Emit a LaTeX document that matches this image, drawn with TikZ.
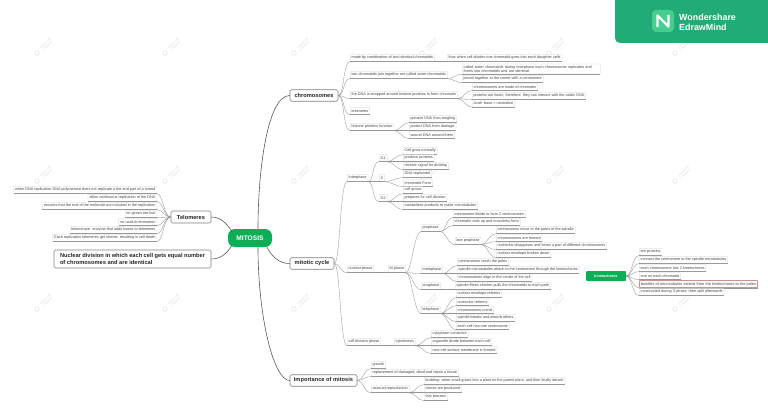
\documentclass[tikz,border=0pt]{standalone}
\usepackage{fontspec}
\setmainfont{Liberation Sans}
\usetikzlibrary{calc}
\definecolor{rootgreen}{HTML}{0DAE55}
\definecolor{logogreen}{HTML}{22AB76}
\definecolor{iconlight}{HTML}{45CE8E}
\definecolor{redline}{HTML}{A85A5A}
\tikzset{
  leaf/.style={draw=black!20,line width=.25pt,fill=white,font=\fontsize{3.78}{4.3}\selectfont,text=black!72,
    inner xsep=1.5pt,inner ysep=0pt,minimum height=7pt,rounded corners=.6pt,
    append after command={(\tikzlastnode.south west) edge[bottomline] (\tikzlastnode.south east)}},
  bottomline/.style={draw=black!40,line width=.3pt},
  major/.style={draw=black!50,line width=.6pt,fill=white,rounded corners=1.5pt,font=\bfseries\fontsize{5.7}{6.6}\selectfont,text=black!85,inner sep=0pt},
  conn/.style={draw=black!42,line width=.35pt},
  mainconn/.style={draw=black!65,line width=.6pt},
  wmark/.style={text=black!16,font=\fontsize{2.5}{3.2}\selectfont,rotate=45,align=left,inner sep=0pt},
  wmdot/.style={draw=black!11,fill=white,line width=.5pt,circle,minimum size=4.5pt,inner sep=0pt}
}
\newcommand{\leaf}[4]{\node[leaf,anchor=west] (#1) at (#2,#3) {#4};}
\newcommand{\rleaf}[3]{\node[leaf,anchor=east] (#1) at (157,#2) {#3};}
\newcommand{\lk}[2]{\foreach \kid in {#2} {\draw[conn] (#1.south east) .. controls +(6,0) and +(-7,0) .. (\kid.south west);}}
\newcommand{\mk}[2]{\foreach \kid in {#2} {\draw[conn] (#1.east) .. controls +(6,0) and +(-7,0) .. (\kid.south west);}}
\begin{document}
\begin{tikzpicture}[x=1pt,y=-1pt]
\useasboundingbox (0,0) rectangle (768,412);
\fill[white] (0,0) rectangle (768,412);
% watermarks
\foreach \wx/\wn in {45/a,173/b,302/c,430/d,557/e,683/f} {
  \foreach \wy/\wm in {46/p,174/q,302/r} {
    \node[wmdot] (wd\wn\wm) at (\wx-8,\wy+7) {};
    \node[wmark] (wt\wn\wm) at (\wx+2,\wy-2) {Wondershare\\EdrawMind};
  }
}
% logo
\fill[logogreen] (768,0) -- (615,0) [rounded corners=5pt] -- (615,43) [sharp corners] -- (768,43) -- cycle;
\fill[iconlight,rounded corners=4pt] (652,10) rectangle (674,32);
\draw[white,line width=2.4pt,line join=round] (657.5,27) -- (657.5,15.5) -- (668.5,26.5) -- (668.5,15);
\node[anchor=west,text=white,font=\bfseries\fontsize{8.9}{10.2}\selectfont,align=left,inner sep=0pt] (logotext) at (679,22) {Wondershare\\EdrawMind};
% main topics
\node[fill=rootgreen,rounded corners=7pt,text=white,font=\bfseries\fontsize{6.6}{7.6}\selectfont,minimum width=44pt,minimum height=18pt,inner sep=0pt] (root) at (250,238) {MITOSIS};
\node[major,minimum width=48pt,minimum height=11.5pt] (chrom) at (314,95.5) {chromosomes};
\node[major,minimum width=44pt,minimum height=11.5pt] (cycle) at (312,263.5) {mitotic cycle};
\node[major,minimum width=67pt,minimum height=11.5pt] (import) at (323.5,380.5) {Importance of mitosis};
\node[major,minimum width=40pt,minimum height=12pt] (telo) at (191,217) {Telomeres};
\node[major,minimum width=157pt,minimum height=18pt,align=left] (nucl) at (132.5,259) {\parbox{145pt}{Nuclear division in which each cell gets equal number of chromosomes and are identical}};
\draw[mainconn] ($(root.north)+(8,0)$) .. controls +(0,-60) and +(-22,0) .. (chrom.west);
\draw[mainconn] ($(root.south)+(8,0)$) .. controls +(0,70) and +(-16,0) .. (import.west);
\draw[mainconn] ($(root.south)+(17,0)$) .. controls +(5,10) and +(-10,0) .. (cycle.west);
\draw[mainconn] ($(root.north)+(-18,3)$) .. controls +(-6,-10) and +(8,0) .. (telo.east);
\draw[mainconn] ($(root.south)+(-18,-2)$) .. controls +(-6,10) and +(8,0) .. (nucl.east);
% chromosomes branch
\leaf{ca}{350}{58}{made by combination of two identical chromatids}
\leaf{caa}{447}{58}{thus when cell divides one chromatid goes into each daughter cells}
\leaf{cb}{350}{75}{two chromatids join together are called sister chromatids}
\node[leaf,anchor=west,text width=135pt,minimum height=10pt] (cba) at (462,69) {called sister chromatids during interphase each chromosome replicates and forms two chromatids and are identical};
\leaf{cbb}{462}{79}{joined together at the center with a centromere}
\leaf{cc}{350}{95}{the DNA is wrapped around histone proteins to form chromatin}
\leaf{cca}{472}{87}{chromosomes are made of chromatin}
\leaf{ccb}{472}{96}{proteins are basic, therefore, they can interact with the acidic DNA}
\leaf{ccc}{472}{103.5}{Acid+ base = neutralize}
\leaf{cd}{350}{111}{telomeres}
\leaf{ce}{350}{127}{histone proteins function}
\leaf{cea}{409}{119}{prevent DNA from tangling}
\leaf{ceb}{409}{127}{protect DNA from damage}
\leaf{cec}{409}{135}{wound DNA around them}
\mk{chrom}{ca,cb,cc,cd,ce}
\lk{ca}{caa}
\lk{cb}{cba,cbb}
\lk{cc}{cca,ccb,ccc}
\lk{ce}{cea,ceb,cec}
% interphase
\leaf{ip}{347}{178}{Interphase}
\leaf{ga}{379}{158}{G1}
\leaf{gb}{379}{178}{S}
\leaf{gc}{379}{198}{G2}
\leaf{gaa}{403}{151}{Cell grow normally}
\leaf{gab}{403}{158}{produce proteins}
\leaf{gac}{403}{166}{receive signal for dividing}
\leaf{gba}{403}{174}{DNA replicated}
\leaf{gbb}{403}{183}{chromatid Form}
\leaf{gca}{403}{190}{cell grows}
\leaf{gcb}{403}{198}{prepares for cell division}
\leaf{gcc}{403}{206}{catabolizes products to make microtubules}
\lk{ip}{ga,gb,gc}
\lk{ga}{gaa,gab,gac}
\lk{gb}{gba,gbb}
\lk{gc}{gca,gcb,gcc}
% nuclear phase
\leaf{np}{347}{269}{nuclear phase}
\leaf{mp}{388}{269}{M phase}
\leaf{pr}{421}{228}{prophase}
\leaf{pra}{453}{214}{centrosome divide to form 2 centrosomes}
\leaf{prb}{453}{222}{chromatin coils up and crosslinks form}
\leaf{prc}{455}{241}{late prophase}
\leaf{prca}{496}{230}{centrosomes move to the poles of the spindle}
\leaf{prcb}{496}{238}{chromosomes are formed}
\leaf{prcc}{496}{246}{nucleolus disappears and forms a part of different chromosomes}
\leaf{prcd}{496}{254}{nuclear envelope broken down}
\leaf{me}{421}{270}{metaphase}
\leaf{mea}{457}{262}{centrosomes reach the poles}
\leaf{meb}{457}{270}{spindle microtubules attach to the centromere through the kinetochores}
\leaf{mec}{457}{278}{chromosomes align in the center of the cell}
\leaf{an}{421}{286}{anaphase}
\leaf{ana}{455}{286}{spindle fibres shorten pulls the chromatids to each pole}
\leaf{te}{421}{310}{telophase}
\leaf{tea}{456}{294}{nuclear envelope reforms}
\leaf{teb}{456}{302}{nucleolus reforms}
\leaf{tec}{456}{310}{chromosomes uncoil}
\leaf{ted}{456}{318}{spindle breaks and absorb others}
\leaf{tee}{456}{326}{each cell has one centrosome}
\lk{np}{mp}
\lk{mp}{pr,me,an,te}
\lk{pr}{pra,prb,prc}
\lk{prc}{prca,prcb,prcc,prcd}
\lk{me}{mea,meb,mec}
\lk{an}{ana}
\lk{te}{tea,teb,tec,ted,tee}
% cell division
\leaf{cdp}{347}{342}{cell division phase}
\leaf{cy}{394}{342}{cytokinesis}
\leaf{cya}{431}{334}{cytoplasm constricts}
\leaf{cyb}{431}{342}{organelle divide between each cell}
\leaf{cyc}{431}{350}{new cell surface membrane is formed}
\lk{cdp}{cy}
\lk{cy}{cya,cyb,cyc}
\mk{cycle}{ip,np,cdp}
% importance
\leaf{ia}{371}{365}{growth}
\leaf{ib}{371}{373}{replacement of damaged, dead and repair a tissue}
\leaf{ic}{371}{389}{asexual reproduction}
\leaf{ica}{424}{381}{budding: when small grows into a plant on the parent plant, and then finally detach}
\leaf{icb}{424}{389}{clones are produced}
\leaf{icc}{424}{397}{fast process}
\mk{import}{ia,ib,ic}
\lk{ic}{ica,icb,icc}
% kinetochores
\node[fill=rootgreen,rounded corners=1pt,text=white,font=\bfseries\fontsize{3.7}{4.3}\selectfont,minimum width=40pt,minimum height=10pt,inner sep=0pt] (ki) at (606,276) {kinetochores};
\leaf{kia}{639}{252}{are proteins}
\leaf{kib}{639}{260}{connect the centromere to the spindle microtubules}
\leaf{kic}{639}{268}{each chromosome has 2 kinetochores}
\leaf{kid}{639}{276}{one on each chromatid}
\node[leaf,anchor=west,draw=redline,line width=.5pt,font=\fontsize{3.95}{4.4}\selectfont] (kie) at (639,284) {bundles of microtubules extend from the kinetochores to the poles};
\leaf{kif}{639}{292}{constructed during S phase, then split afterwards}
\mk{ki}{kia,kib,kic,kid,kie,kif}
% telomeres
\rleaf{ta}{190}{when DNA replication DNA polymerase does not replicate a the end part of a strand}
\rleaf{tb}{198}{allow continuous replication of the DNA}
\rleaf{tc}{206}{ensures that the end of the molecule are included in the replication}
\rleaf{td}{214}{no genes are lost}
\rleaf{tf}{222}{no useful information}
\rleaf{tg}{230}{telomerase: enzyme that adds bases to telomeres}
\rleaf{th}{238}{Each replication telomeres get shorter, resulting in cell death}
\foreach \kid in {ta,tb,tc,td,tf,tg,th} {\draw[conn] (telo.west) .. controls +(-7,0) and +(6,0) .. (\kid.south east);}
\end{tikzpicture}
\end{document}
